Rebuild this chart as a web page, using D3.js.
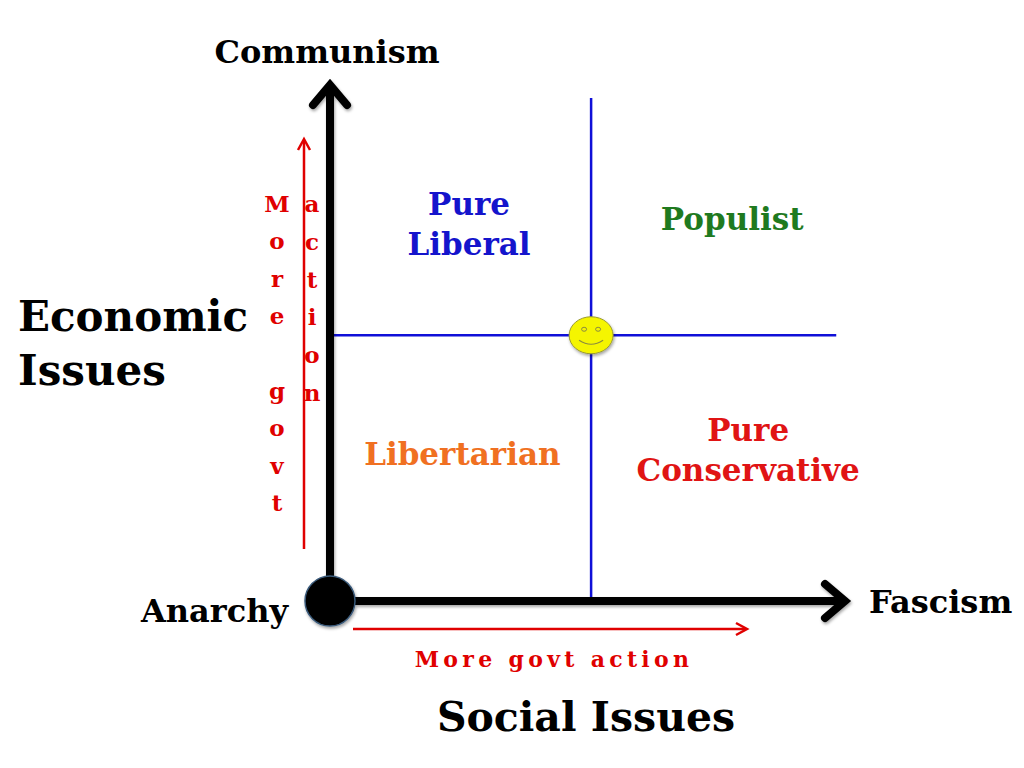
<!DOCTYPE html>
<html>
<head>
<meta charset="utf-8">
<script src="https://cdn.jsdelivr.net/npm/d3@7"></script>
<style>
  body { margin: 0; background: #fff; }
  svg text { font-family: "DejaVu Serif", "Liberation Serif", serif; font-weight: bold; }
</style>
</head>
<body>
<div id="chart"></div>
<script>
// quadrant labels, positions in 0-100 chart units
let quadrants = [
  {lines: ['Pure', 'Liberal'], x: 27, y: 73, color: '#1414cc'},
  {lines: ['Populist'], x: 78.1, y: 74, color: '#1f7a1f'},
  {lines: ['Libertarian'], x: 25.7, y: 28.5, color: '#f07022'},
  {lines: ['Pure', 'Conservative'], x: 81.2, y: 29.3, color: '#e01414'}
];
let centre = {x: 50.7, y: 51.5};
let axisEnds = ['Communism', 'Fascism', 'Anarchy'];
let axisTitles = ['Economic', 'Issues', 'Social Issues'];
let upLetters = ['M', 'o', 'r', 'e', '', 'g', 'o', 'v', 't'];
let upLetters2 = ['a', 'c', 't', 'i', 'o', 'n'];
let sideLabel = 'More govt action';

let svg = d3.select('#chart').append('svg')
  .attr('width', 1024).attr('height', 768);

let x = d3.scaleLinear().domain([0, 100]).range([330, 845]);
let y = d3.scaleLinear().domain([0, 100]).range([601, 85]);

let defs = svg.append('defs');
let sh = defs.append('filter').attr('id', 'sh').attr('x', '-20%').attr('y', '-20%').attr('width', '140%').attr('height', '140%');
sh.append('feDropShadow').attr('dx', 1).attr('dy', 2).attr('stdDeviation', 1.5).attr('flood-opacity', 0.35);

// blue dividing lines
svg.append('line')
  .attr('x1', x(centre.x)).attr('x2', x(centre.x))
  .attr('y1', y(97.5)).attr('y2', y(0.5))
  .attr('stroke', '#1010d8').attr('stroke-width', 2.5);
svg.append('line')
  .attr('x1', x(0)).attr('x2', x(98.3))
  .attr('y1', y(centre.y)).attr('y2', y(centre.y))
  .attr('stroke', '#1010d8').attr('stroke-width', 2.5);

// black axes
let ax = svg.append('g').attr('filter', 'url(#sh)');
ax.append('line')
  .attr('x1', x(0)).attr('x2', x(0))
  .attr('y1', y(0)).attr('y2', y(99.2))
  .attr('stroke', '#000').attr('stroke-width', 8);
ax.append('line')
  .attr('x1', x(0)).attr('x2', x(99.2))
  .attr('y1', y(0)).attr('y2', y(0))
  .attr('stroke', '#000').attr('stroke-width', 8);
// arrow heads
ax.append('path')
  .attr('d', `M${x(0) - 17},${y(100) + 20} L${x(0)},${y(100)} L${x(0) + 17},${y(100) + 20}`)
  .attr('fill', 'none').attr('stroke', '#000').attr('stroke-width', 8)
  .attr('stroke-linecap', 'round').attr('stroke-linejoin', 'miter');
ax.append('path')
  .attr('d', `M${x(100) - 20},${y(0) - 17} L${x(100)},${y(0)} L${x(100) - 20},${y(0) + 17}`)
  .attr('fill', 'none').attr('stroke', '#000').attr('stroke-width', 8)
  .attr('stroke-linecap', 'round').attr('stroke-linejoin', 'miter');
// origin dot
ax.append('circle')
  .attr('cx', x(0)).attr('cy', y(0)).attr('r', 25)
  .attr('fill', '#000').attr('stroke', '#3a5a7a').attr('stroke-width', 1.5);

// smiley
let sm = svg.append('g').attr('transform', `translate(${x(centre.x)},${y(centre.y)})`)
  .attr('filter', 'url(#sh)');
sm.append('ellipse').attr('rx', 22).attr('ry', 18.5)
  .attr('fill', '#f5f500').attr('stroke', '#9a9a30').attr('stroke-width', 1);
sm.append('ellipse').attr('cx', -7).attr('cy', -6).attr('rx', 2.5).attr('ry', 2)
  .attr('fill', 'none').attr('stroke', '#8a8a40').attr('stroke-width', 1);
sm.append('ellipse').attr('cx', 7).attr('cy', -6).attr('rx', 2.5).attr('ry', 2)
  .attr('fill', 'none').attr('stroke', '#8a8a40').attr('stroke-width', 1);
sm.append('path').attr('d', 'M-12,5 Q0,13 12,5')
  .attr('fill', 'none').attr('stroke', '#8a8a40').attr('stroke-width', 1.2);

// red arrows
let red = '#e00000';
svg.append('line')
  .attr('x1', 304).attr('x2', 304).attr('y1', 549).attr('y2', 140)
  .attr('stroke', red).attr('stroke-width', 2.5);
svg.append('path').attr('d', 'M298,150 L304,139 L310,150')
  .attr('fill', 'none').attr('stroke', red).attr('stroke-width', 2.5);
svg.append('line')
  .attr('x1', 353).attr('x2', 746).attr('y1', 629).attr('y2', 629)
  .attr('stroke', red).attr('stroke-width', 2.5);
svg.append('path').attr('d', 'M736,623 L747,629 L736,635')
  .attr('fill', 'none').attr('stroke', red).attr('stroke-width', 2.5);

// vertical letter columns
svg.selectAll('text.up1').data(upLetters).enter().append('text')
  .attr('class', 'up1')
  .attr('x', 277).attr('y', (d, i) => 212 + i * 37.4)
  .attr('text-anchor', 'middle').attr('font-size', 23).attr('fill', red)
  .text(d => d);
svg.selectAll('text.up2').data(upLetters2).enter().append('text')
  .attr('class', 'up2')
  .attr('x', 312).attr('y', (d, i) => 212 + i * 37.8)
  .attr('text-anchor', 'middle').attr('font-size', 23).attr('fill', red)
  .text(d => d);

svg.append('text')
  .attr('x', 554).attr('y', 667).attr('text-anchor', 'middle')
  .attr('font-size', 22).attr('letter-spacing', 4.3).attr('fill', red)
  .text(sideLabel);

// quadrant labels
quadrants.forEach(function(q) {
  let t = svg.append('text')
    .attr('text-anchor', 'middle').attr('font-size', 31).attr('fill', q.color);
  let n = q.lines.length;
  q.lines.forEach(function(l, i) {
    t.append('tspan')
      .attr('x', x(q.x))
      .attr('y', y(q.y) + 11 + (i - (n - 1) / 2) * 40)
      .text(l);
  });
});

// axis end labels
svg.append('text').attr('x', 327).attr('y', 63).attr('text-anchor', 'middle')
  .attr('font-size', 32).text(axisEnds[0]);
svg.append('text').attr('x', 869).attr('y', 613)
  .attr('font-size', 32).text(axisEnds[1]);
svg.append('text').attr('x', 288).attr('y', 622).attr('text-anchor', 'end')
  .attr('font-size', 32).text(axisEnds[2]);

// axis titles
svg.append('text').attr('x', 18).attr('y', 331)
  .attr('font-size', 42).text(axisTitles[0]);
svg.append('text').attr('x', 18).attr('y', 385)
  .attr('font-size', 42).text(axisTitles[1]);
svg.append('text').attr('x', 586).attr('y', 731).attr('text-anchor', 'middle')
  .attr('font-size', 41).text(axisTitles[2]);
</script>
</body>
</html>
